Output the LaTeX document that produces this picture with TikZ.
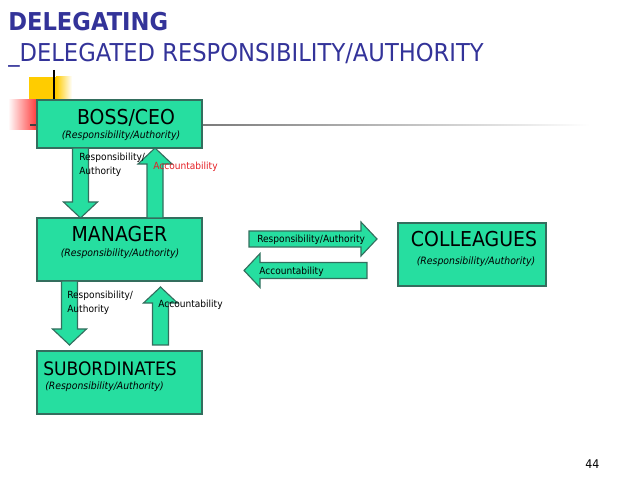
\documentclass[tikz,border=0pt]{standalone}
\usepackage{fontspec}
\setmainfont[FakeStretch=0.92]{DejaVu Sans}
\usetikzlibrary{calc}

\definecolor{boxgreen}{RGB}{38,222,160}
\definecolor{boxline}{RGB}{52,110,94}
\definecolor{titleblue}{RGB}{51,51,153}
\definecolor{acctred}{RGB}{228,30,36}
\definecolor{decoyellow}{RGB}{255,204,0}

\tikzset{
  box/.style={draw=boxline, fill=boxgreen, line width=0.8pt, minimum width=4.125cm,
    minimum height=1.575cm, outer sep=0pt, inner sep=0pt},
  boxhead/.style={font=\fontsize{14.6}{17}\selectfont, inner sep=0pt, anchor=base},
  boxsub/.style={font=\fontsize{7.2}{9}\selectfont\itshape, inner sep=0pt, anchor=base},
  tag/.style={font=\fontsize{7}{10}\selectfont, inner sep=0pt, anchor=west, align=left},
  blockarrow/.style={draw=boxline, fill=boxgreen, line width=0.8pt, to path={
      ($(\tikztostart)!0.2cm!90:(\tikztotarget)$)
      -- ($(\tikztotarget)!0.447cm!-26.57:(\tikztostart)$)
      -- ($(\tikztotarget)!0.584cm!-46.74:(\tikztostart)$)
      -- (\tikztotarget)
      -- ($(\tikztotarget)!0.584cm!46.74:(\tikztostart)$)
      -- ($(\tikztotarget)!0.447cm!26.57:(\tikztostart)$)
      -- ($(\tikztostart)!0.2cm!-90:(\tikztotarget)$) -- cycle}}
}

\begin{document}
\begin{tikzpicture}[x=0.025cm, y=-0.025cm]
  \useasboundingbox (0,0) rectangle (638,478);

  % slide decoration
  \fill[decoyellow] (29,77) rectangle (56,101);
  \shade[left color=decoyellow, right color=white] (56,77) rectangle (72,101);
  \shade[left color=white, right color=red!80] (8,100) rectangle (38,130);
  \draw[line width=1.2pt] (54,70) -- (54,128);
  \shade[left color=black!75, right color=white] (30,124.3) rectangle (590,125.7);

  \node[anchor=base west, inner sep=0pt, text=titleblue,
    font=\fontsize{17.5}{21}\selectfont\bfseries] (title) at (8,31) {DELEGATING};
  \node[anchor=base west, inner sep=0pt, text=titleblue,
    font=\fontsize{17.5}{21}\selectfont] (subtitle) at (8,61.5) {\_DELEGATED RESPONSIBILITY/AUTHORITY};

  \node[box, minimum height=1.2cm] (boss) at (119.5,124) {};
  \node[box] (manager) at (119.5,249.5) {};
  \node[box] (subs) at (119.5,382.5) {};
  \node[box, minimum width=3.7cm] (colleagues) at (472,254.5) {};

  \node[boxhead] at (126,125) {BOSS/CEO};
  \node[boxsub] at (121,139) {(Responsibility/Authority)};
  \node[boxhead] at (119.5,241.5) {MANAGER};
  \node[boxsub] at (120,256.5) {(Responsibility/Authority)};
  \node[boxhead, anchor=base west, font=\fontsize{13.2}{16}\selectfont] at (43,375) {SUBORDINATES};
  \node[boxsub, anchor=base west] at (45,390) {(Responsibility/Authority)};
  \node[boxhead] at (474,247) {COLLEAGUES};
  \node[boxsub] at (476,265) {(Responsibility/Authority)};

  % arrows between the boxes
  \draw[blockarrow] ([xshift=-0.975cm]boss.south) to ([xshift=-0.975cm]manager.north);
  \draw[blockarrow] ([xshift=0.8875cm]manager.north) to ([xshift=0.8875cm]boss.south);
  \draw[blockarrow] ([xshift=-1.25cm]manager.south) to ([shift={(-1.25cm,0.15cm)}]subs.north);
  \draw[blockarrow] ([shift={(1.025cm,0.15cm)}]subs.north) to ([shift={(1.025cm,-0.15cm)}]manager.south);
  \draw[blockarrow] ([shift={(1.175cm,0.2625cm)}]manager.east) to ([shift={(-0.525cm,0.3875cm)}]colleagues.west);
  \draw[blockarrow] ([shift={(-0.775cm,-0.4cm)}]colleagues.west) to ([shift={(1.05cm,-0.525cm)}]manager.east);

  \node[tag] at (79,165) {Responsibility/\\Authority};
  \node[tag, text=acctred] at (153,167) {Accountability};
  \node[tag] at (67,303) {Responsibility/\\Authority};
  \node[tag] at (158,305) {Accountability};
  \node[tag] at (257,240) {Responsibility/Authority};
  \node[tag] at (259,272) {Accountability};

  \node[anchor=base west, inner sep=0pt, font=\fontsize{8.5}{10}\selectfont] (pagenum) at (585,468) {44};
\end{tikzpicture}
\end{document}
